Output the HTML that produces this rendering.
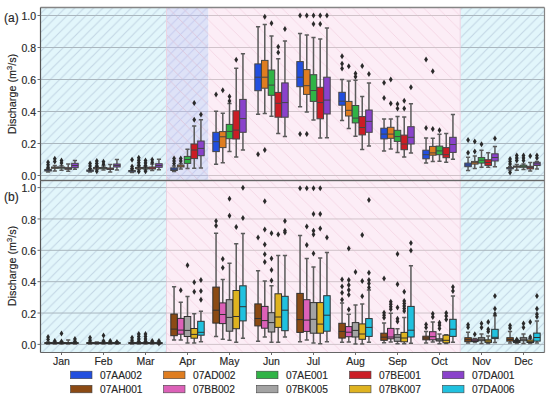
<!DOCTYPE html>
<html><head><meta charset="utf-8"><style>
html,body{margin:0;padding:0;background:#fff;width:550px;height:396px;overflow:hidden}
svg{display:block;font-family:"Liberation Sans",sans-serif}
</style></head><body>
<svg width="550" height="396" viewBox="0 0 550 396" font-family="Liberation Sans, sans-serif"><style>text{stroke:#262626;stroke-width:0.15px}</style>
<defs>
<pattern id="hc" patternUnits="userSpaceOnUse" width="9.45" height="9.45" patternTransform="translate(7 0)">
<path d="M-1 1L1 -1M0 9.45L9.45 0M8.45 10.45L10.45 8.45" stroke="#c3d6e4" stroke-width="1.1"/>
</pattern>
<pattern id="hl" patternUnits="userSpaceOnUse" width="9.45" height="9.45" patternTransform="translate(7 0)">
<path d="M-1 1L1 -1M0 9.45L9.45 0M8.45 10.45L10.45 8.45" stroke="#c6cbee" stroke-width="1"/>
</pattern>
<pattern id="hp2" patternUnits="userSpaceOnUse" width="14.2" height="14.2" patternTransform="translate(4 0)">
<path d="M-1 -1L1 1M0 0L14.2 14.2M13.2 13.2L15.2 15.2" stroke="#dcc6dc" stroke-width="0.9"/>
</pattern>
<pattern id="hp" patternUnits="userSpaceOnUse" width="14.2" height="14.2" patternTransform="translate(4 0)">
<path d="M-1 -1L1 1M0 0L14.2 14.2M13.2 13.2L15.2 15.2" stroke="#f4d6e5" stroke-width="0.9"/>
</pattern>
<clipPath id="ca"><rect x="40.5" y="7.5" width="504.0" height="173.0"/></clipPath>
<clipPath id="cb"><rect x="40.5" y="180.5" width="504.0" height="172.0"/></clipPath>
</defs>
<rect x="40.5" y="7.5" width="126.0" height="173.0" fill="#e2f6fb"/><rect x="40.5" y="7.5" width="126.0" height="173.0" fill="url(#hc)"/>
<rect x="166.5" y="7.5" width="42.0" height="173.0" fill="#dee2f7"/><rect x="166.5" y="7.5" width="42.0" height="173.0" fill="url(#hl)"/><rect x="166.5" y="7.5" width="42.0" height="173.0" fill="url(#hp2)"/>
<rect x="208.5" y="7.5" width="252.0" height="173.0" fill="#fcedf6"/><rect x="208.5" y="7.5" width="252.0" height="173.0" fill="url(#hp)"/>
<rect x="460.5" y="7.5" width="84.0" height="173.0" fill="#e2f6fb"/><rect x="460.5" y="7.5" width="84.0" height="173.0" fill="url(#hc)"/>
<rect x="40.5" y="180.5" width="126.0" height="172.0" fill="#e2f6fb"/><rect x="40.5" y="180.5" width="126.0" height="172.0" fill="url(#hc)"/>
<rect x="166.5" y="180.5" width="294.0" height="172.0" fill="#fcedf6"/><rect x="166.5" y="180.5" width="294.0" height="172.0" fill="url(#hp)"/>
<rect x="460.5" y="180.5" width="84.0" height="172.0" fill="#e2f6fb"/><rect x="460.5" y="180.5" width="84.0" height="172.0" fill="url(#hc)"/>
<path d="M166.5 7.5V352.5" stroke="#ecd4e2" stroke-width="1"/>
<path d="M460.2 7.5V352.5" stroke="#ecd4e2" stroke-width="1"/>
<path d="M40.5 175.50H166.5" stroke="#aab7bf" stroke-width="1"/><path d="M166.5 175.50H208.5" stroke="#b9bcd6" stroke-width="1"/><path d="M208.5 175.50H460.5" stroke="#d1c3ca" stroke-width="1"/><path d="M460.5 175.50H544.5" stroke="#aab7bf" stroke-width="1"/>
<path d="M40.5 344.40H166.5" stroke="#aab7bf" stroke-width="1"/><path d="M166.5 344.40H460.5" stroke="#d1c3ca" stroke-width="1"/><path d="M460.5 344.40H544.5" stroke="#aab7bf" stroke-width="1"/>
<path d="M40.5 143.50H166.5" stroke="#aab7bf" stroke-width="1"/><path d="M166.5 143.50H208.5" stroke="#b9bcd6" stroke-width="1"/><path d="M208.5 143.50H460.5" stroke="#d1c3ca" stroke-width="1"/><path d="M460.5 143.50H544.5" stroke="#aab7bf" stroke-width="1"/>
<path d="M40.5 313.04H166.5" stroke="#aab7bf" stroke-width="1"/><path d="M166.5 313.04H460.5" stroke="#d1c3ca" stroke-width="1"/><path d="M460.5 313.04H544.5" stroke="#aab7bf" stroke-width="1"/>
<path d="M40.5 111.50H166.5" stroke="#aab7bf" stroke-width="1"/><path d="M166.5 111.50H208.5" stroke="#b9bcd6" stroke-width="1"/><path d="M208.5 111.50H460.5" stroke="#d1c3ca" stroke-width="1"/><path d="M460.5 111.50H544.5" stroke="#aab7bf" stroke-width="1"/>
<path d="M40.5 281.68H166.5" stroke="#aab7bf" stroke-width="1"/><path d="M166.5 281.68H460.5" stroke="#d1c3ca" stroke-width="1"/><path d="M460.5 281.68H544.5" stroke="#aab7bf" stroke-width="1"/>
<path d="M40.5 79.50H166.5" stroke="#aab7bf" stroke-width="1"/><path d="M166.5 79.50H208.5" stroke="#b9bcd6" stroke-width="1"/><path d="M208.5 79.50H460.5" stroke="#d1c3ca" stroke-width="1"/><path d="M460.5 79.50H544.5" stroke="#aab7bf" stroke-width="1"/>
<path d="M40.5 250.32H166.5" stroke="#aab7bf" stroke-width="1"/><path d="M166.5 250.32H460.5" stroke="#d1c3ca" stroke-width="1"/><path d="M460.5 250.32H544.5" stroke="#aab7bf" stroke-width="1"/>
<path d="M40.5 47.50H166.5" stroke="#aab7bf" stroke-width="1"/><path d="M166.5 47.50H208.5" stroke="#b9bcd6" stroke-width="1"/><path d="M208.5 47.50H460.5" stroke="#d1c3ca" stroke-width="1"/><path d="M460.5 47.50H544.5" stroke="#aab7bf" stroke-width="1"/>
<path d="M40.5 218.96H166.5" stroke="#aab7bf" stroke-width="1"/><path d="M166.5 218.96H460.5" stroke="#d1c3ca" stroke-width="1"/><path d="M460.5 218.96H544.5" stroke="#aab7bf" stroke-width="1"/>
<path d="M40.5 15.50H166.5" stroke="#aab7bf" stroke-width="1"/><path d="M166.5 15.50H208.5" stroke="#b9bcd6" stroke-width="1"/><path d="M208.5 15.50H460.5" stroke="#d1c3ca" stroke-width="1"/><path d="M460.5 15.50H544.5" stroke="#aab7bf" stroke-width="1"/>
<path d="M40.5 187.60H166.5" stroke="#aab7bf" stroke-width="1"/><path d="M166.5 187.60H460.5" stroke="#d1c3ca" stroke-width="1"/><path d="M460.5 187.60H544.5" stroke="#aab7bf" stroke-width="1"/>
<path d="M48.06 168.50V169.50M48.06 171.00V172.00M45.96 168.50h4.2M45.96 172.00h4.2" stroke="#5a5a5a" stroke-width="1.5" fill="none"/>
<rect x="44.81" y="169.50" width="6.5" height="1.50" fill="#224fdf" stroke="#444444" stroke-width="1"/>
<path d="M44.81 170.30h6.5" stroke="#444444" stroke-width="1"/>
<path d="M48.06 159.20L49.96 162.20L48.06 165.20L46.16 162.20Z" fill="#2a2a2a"/>
<path d="M48.06 161.70L49.96 164.70L48.06 167.70L46.16 164.70Z" fill="#2a2a2a"/>
<path d="M48.06 164.20L49.96 167.20L48.06 170.20L46.16 167.20Z" fill="#2a2a2a"/>
<path d="M48.06 342.00V342.60M48.06 343.50V344.00M45.96 342.00h4.2M45.96 344.00h4.2" stroke="#5a5a5a" stroke-width="1.5" fill="none"/>
<rect x="44.81" y="342.60" width="6.5" height="0.90" fill="#8b4a14" stroke="#303030" stroke-width="1"/>
<path d="M44.81 343.00h6.5" stroke="#303030" stroke-width="1"/>
<path d="M48.06 334.00L49.96 337.00L48.06 340.00L46.16 337.00Z" fill="#2a2a2a"/>
<path d="M48.06 336.50L49.96 339.50L48.06 342.50L46.16 339.50Z" fill="#2a2a2a"/>
<path d="M54.78 165.40V167.00M54.78 168.30V171.00M52.68 165.40h4.2M52.68 171.00h4.2" stroke="#5a5a5a" stroke-width="1.5" fill="none"/>
<rect x="51.53" y="167.00" width="6.5" height="1.30" fill="#df7d20" stroke="#444444" stroke-width="1"/>
<path d="M51.53 167.70h6.5" stroke="#444444" stroke-width="1"/>
<path d="M54.78 155.80L56.68 158.80L54.78 161.80L52.88 158.80Z" fill="#2a2a2a"/>
<path d="M54.78 158.50L56.68 161.50L54.78 164.50L52.88 161.50Z" fill="#2a2a2a"/>
<path d="M54.78 342.00V342.60M54.78 343.50V344.00M52.68 342.00h4.2M52.68 344.00h4.2" stroke="#5a5a5a" stroke-width="1.5" fill="none"/>
<rect x="51.53" y="342.60" width="6.5" height="0.90" fill="#dc61b8" stroke="#303030" stroke-width="1"/>
<path d="M51.53 343.00h6.5" stroke="#303030" stroke-width="1"/>
<path d="M54.78 338.00L56.68 341.00L54.78 344.00L52.88 341.00Z" fill="#2a2a2a"/>
<path d="M61.50 165.70V167.00M61.50 168.20V170.30M59.40 165.70h4.2M59.40 170.30h4.2" stroke="#5a5a5a" stroke-width="1.5" fill="none"/>
<rect x="58.25" y="167.00" width="6.5" height="1.20" fill="#30b346" stroke="#444444" stroke-width="1"/>
<path d="M58.25 167.50h6.5" stroke="#444444" stroke-width="1"/>
<path d="M61.50 157.50L63.40 160.50L61.50 163.50L59.60 160.50Z" fill="#2a2a2a"/>
<path d="M61.50 160.00L63.40 163.00L61.50 166.00L59.60 163.00Z" fill="#2a2a2a"/>
<path d="M61.50 342.00V342.60M61.50 343.50V344.00M59.40 342.00h4.2M59.40 344.00h4.2" stroke="#5a5a5a" stroke-width="1.5" fill="none"/>
<rect x="58.25" y="342.60" width="6.5" height="0.90" fill="#a3a3a3" stroke="#303030" stroke-width="1"/>
<path d="M58.25 343.00h6.5" stroke="#303030" stroke-width="1"/>
<path d="M61.50 330.50L63.40 333.50L61.50 336.50L59.60 333.50Z" fill="#2a2a2a"/>
<path d="M61.50 338.50L63.40 341.50L61.50 344.50L59.60 341.50Z" fill="#2a2a2a"/>
<path d="M68.22 164.10V167.70M68.22 169.30V171.30M66.12 164.10h4.2M66.12 171.30h4.2" stroke="#5a5a5a" stroke-width="1.5" fill="none"/>
<rect x="64.97" y="167.70" width="6.5" height="1.60" fill="#cb1d25" stroke="#444444" stroke-width="1"/>
<path d="M64.97 168.50h6.5" stroke="#444444" stroke-width="1"/>
<path d="M68.22 340.10V342.60M68.22 343.50V344.00M66.12 340.10h4.2M66.12 344.00h4.2" stroke="#5a5a5a" stroke-width="1.5" fill="none"/>
<rect x="64.97" y="342.60" width="6.5" height="0.90" fill="#dfb320" stroke="#303030" stroke-width="1"/>
<path d="M64.97 343.00h6.5" stroke="#303030" stroke-width="1"/>
<path d="M74.94 160.40V163.30M74.94 167.70V169.30M72.84 160.40h4.2M72.84 169.30h4.2" stroke="#5a5a5a" stroke-width="1.5" fill="none"/>
<rect x="71.69" y="163.30" width="6.5" height="4.40" fill="#8a42cb" stroke="#444444" stroke-width="1"/>
<path d="M71.69 165.50h6.5" stroke="#444444" stroke-width="1"/>
<path d="M74.94 342.00V342.60M74.94 343.50V344.00M72.84 342.00h4.2M72.84 344.00h4.2" stroke="#5a5a5a" stroke-width="1.5" fill="none"/>
<rect x="71.69" y="342.60" width="6.5" height="0.90" fill="#20c1df" stroke="#303030" stroke-width="1"/>
<path d="M71.69 343.00h6.5" stroke="#303030" stroke-width="1"/>
<path d="M74.94 336.00L76.84 339.00L74.94 342.00L73.04 339.00Z" fill="#2a2a2a"/>
<path d="M74.94 338.20L76.84 341.20L74.94 344.20L73.04 341.20Z" fill="#2a2a2a"/>
<path d="M90.06 169.00V170.00M90.06 171.30V172.00M87.96 169.00h4.2M87.96 172.00h4.2" stroke="#5a5a5a" stroke-width="1.5" fill="none"/>
<rect x="86.81" y="170.00" width="6.5" height="1.30" fill="#224fdf" stroke="#444444" stroke-width="1"/>
<path d="M86.81 170.70h6.5" stroke="#444444" stroke-width="1"/>
<path d="M90.06 160.50L91.96 163.50L90.06 166.50L88.16 163.50Z" fill="#2a2a2a"/>
<path d="M90.06 163.00L91.96 166.00L90.06 169.00L88.16 166.00Z" fill="#2a2a2a"/>
<path d="M90.06 165.50L91.96 168.50L90.06 171.50L88.16 168.50Z" fill="#2a2a2a"/>
<path d="M90.06 342.00V342.60M90.06 343.50V344.00M87.96 342.00h4.2M87.96 344.00h4.2" stroke="#5a5a5a" stroke-width="1.5" fill="none"/>
<rect x="86.81" y="342.60" width="6.5" height="0.90" fill="#8b4a14" stroke="#303030" stroke-width="1"/>
<path d="M86.81 343.00h6.5" stroke="#303030" stroke-width="1"/>
<path d="M90.06 334.80L91.96 337.80L90.06 340.80L88.16 337.80Z" fill="#2a2a2a"/>
<path d="M90.06 337.20L91.96 340.20L90.06 343.20L88.16 340.20Z" fill="#2a2a2a"/>
<path d="M96.78 166.50V167.50M96.78 168.70V169.50M94.68 166.50h4.2M94.68 169.50h4.2" stroke="#5a5a5a" stroke-width="1.5" fill="none"/>
<rect x="93.53" y="167.50" width="6.5" height="1.20" fill="#df7d20" stroke="#444444" stroke-width="1"/>
<path d="M93.53 168.00h6.5" stroke="#444444" stroke-width="1"/>
<path d="M96.78 158.00L98.68 161.00L96.78 164.00L94.88 161.00Z" fill="#2a2a2a"/>
<path d="M96.78 160.50L98.68 163.50L96.78 166.50L94.88 163.50Z" fill="#2a2a2a"/>
<path d="M96.78 163.00L98.68 166.00L96.78 169.00L94.88 166.00Z" fill="#2a2a2a"/>
<path d="M96.78 168.30L98.68 171.30L96.78 174.30L94.88 171.30Z" fill="#2a2a2a"/>
<path d="M96.78 342.00V342.60M96.78 343.50V344.00M94.68 342.00h4.2M94.68 344.00h4.2" stroke="#5a5a5a" stroke-width="1.5" fill="none"/>
<rect x="93.53" y="342.60" width="6.5" height="0.90" fill="#dc61b8" stroke="#303030" stroke-width="1"/>
<path d="M93.53 343.00h6.5" stroke="#303030" stroke-width="1"/>
<path d="M103.50 166.00V167.50M103.50 168.70V170.00M101.40 166.00h4.2M101.40 170.00h4.2" stroke="#5a5a5a" stroke-width="1.5" fill="none"/>
<rect x="100.25" y="167.50" width="6.5" height="1.20" fill="#30b346" stroke="#444444" stroke-width="1"/>
<path d="M100.25 168.00h6.5" stroke="#444444" stroke-width="1"/>
<path d="M103.50 158.70L105.40 161.70L103.50 164.70L101.60 161.70Z" fill="#2a2a2a"/>
<path d="M103.50 161.20L105.40 164.20L103.50 167.20L101.60 164.20Z" fill="#2a2a2a"/>
<path d="M103.50 342.00V342.60M103.50 343.50V344.00M101.40 342.00h4.2M101.40 344.00h4.2" stroke="#5a5a5a" stroke-width="1.5" fill="none"/>
<rect x="100.25" y="342.60" width="6.5" height="0.90" fill="#a3a3a3" stroke="#303030" stroke-width="1"/>
<path d="M100.25 343.00h6.5" stroke="#303030" stroke-width="1"/>
<path d="M103.50 332.50L105.40 335.50L103.50 338.50L101.60 335.50Z" fill="#2a2a2a"/>
<path d="M103.50 338.00L105.40 341.00L103.50 344.00L101.60 341.00Z" fill="#2a2a2a"/>
<path d="M110.22 164.50V168.00M110.22 169.50V172.00M108.12 164.50h4.2M108.12 172.00h4.2" stroke="#5a5a5a" stroke-width="1.5" fill="none"/>
<rect x="106.97" y="168.00" width="6.5" height="1.50" fill="#cb1d25" stroke="#444444" stroke-width="1"/>
<path d="M106.97 168.80h6.5" stroke="#444444" stroke-width="1"/>
<path d="M110.22 342.00V342.60M110.22 343.50V344.00M108.12 342.00h4.2M108.12 344.00h4.2" stroke="#5a5a5a" stroke-width="1.5" fill="none"/>
<rect x="106.97" y="342.60" width="6.5" height="0.90" fill="#dfb320" stroke="#303030" stroke-width="1"/>
<path d="M106.97 343.00h6.5" stroke="#303030" stroke-width="1"/>
<path d="M110.22 338.00L112.12 341.00L110.22 344.00L108.32 341.00Z" fill="#2a2a2a"/>
<path d="M116.94 159.60V164.00M116.94 167.00V170.00M114.84 159.60h4.2M114.84 170.00h4.2" stroke="#5a5a5a" stroke-width="1.5" fill="none"/>
<rect x="113.69" y="164.00" width="6.5" height="3.00" fill="#8a42cb" stroke="#444444" stroke-width="1"/>
<path d="M113.69 165.50h6.5" stroke="#444444" stroke-width="1"/>
<path d="M116.94 342.00V342.60M116.94 343.50V344.00M114.84 342.00h4.2M114.84 344.00h4.2" stroke="#5a5a5a" stroke-width="1.5" fill="none"/>
<rect x="113.69" y="342.60" width="6.5" height="0.90" fill="#20c1df" stroke="#303030" stroke-width="1"/>
<path d="M113.69 343.00h6.5" stroke="#303030" stroke-width="1"/>
<path d="M116.94 339.00L118.84 342.00L116.94 345.00L115.04 342.00Z" fill="#2a2a2a"/>
<path d="M132.06 169.00V170.50M132.06 171.80V172.50M129.96 169.00h4.2M129.96 172.50h4.2" stroke="#5a5a5a" stroke-width="1.5" fill="none"/>
<rect x="128.81" y="170.50" width="6.5" height="1.30" fill="#224fdf" stroke="#444444" stroke-width="1"/>
<path d="M128.81 171.00h6.5" stroke="#444444" stroke-width="1"/>
<path d="M132.06 156.70L133.96 159.70L132.06 162.70L130.16 159.70Z" fill="#2a2a2a"/>
<path d="M132.06 163.50L133.96 166.50L132.06 169.50L130.16 166.50Z" fill="#2a2a2a"/>
<path d="M132.06 165.50L133.96 168.50L132.06 171.50L130.16 168.50Z" fill="#2a2a2a"/>
<path d="M132.06 342.00V342.60M132.06 343.50V344.00M129.96 342.00h4.2M129.96 344.00h4.2" stroke="#5a5a5a" stroke-width="1.5" fill="none"/>
<rect x="128.81" y="342.60" width="6.5" height="0.90" fill="#8b4a14" stroke="#303030" stroke-width="1"/>
<path d="M128.81 343.00h6.5" stroke="#303030" stroke-width="1"/>
<path d="M132.06 334.80L133.96 337.80L132.06 340.80L130.16 337.80Z" fill="#2a2a2a"/>
<path d="M132.06 337.20L133.96 340.20L132.06 343.20L130.16 340.20Z" fill="#2a2a2a"/>
<path d="M138.78 166.00V167.50M138.78 168.70V169.50M136.68 166.00h4.2M136.68 169.50h4.2" stroke="#5a5a5a" stroke-width="1.5" fill="none"/>
<rect x="135.53" y="167.50" width="6.5" height="1.20" fill="#df7d20" stroke="#444444" stroke-width="1"/>
<path d="M135.53 168.00h6.5" stroke="#444444" stroke-width="1"/>
<path d="M138.78 154.70L140.68 157.70L138.78 160.70L136.88 157.70Z" fill="#2a2a2a"/>
<path d="M138.78 157.20L140.68 160.20L138.78 163.20L136.88 160.20Z" fill="#2a2a2a"/>
<path d="M138.78 159.70L140.68 162.70L138.78 165.70L136.88 162.70Z" fill="#2a2a2a"/>
<path d="M138.78 162.20L140.68 165.20L138.78 168.20L136.88 165.20Z" fill="#2a2a2a"/>
<path d="M138.78 168.60L140.68 171.60L138.78 174.60L136.88 171.60Z" fill="#2a2a2a"/>
<path d="M138.78 342.00V342.60M138.78 343.50V344.00M136.68 342.00h4.2M136.68 344.00h4.2" stroke="#5a5a5a" stroke-width="1.5" fill="none"/>
<rect x="135.53" y="342.60" width="6.5" height="0.90" fill="#dc61b8" stroke="#303030" stroke-width="1"/>
<path d="M135.53 343.00h6.5" stroke="#303030" stroke-width="1"/>
<path d="M138.78 331.00L140.68 334.00L138.78 337.00L136.88 334.00Z" fill="#2a2a2a"/>
<path d="M138.78 333.50L140.68 336.50L138.78 339.50L136.88 336.50Z" fill="#2a2a2a"/>
<path d="M138.78 336.00L140.68 339.00L138.78 342.00L136.88 339.00Z" fill="#2a2a2a"/>
<path d="M138.78 338.30L140.68 341.30L138.78 344.30L136.88 341.30Z" fill="#2a2a2a"/>
<path d="M145.50 166.50V167.50M145.50 168.70V169.50M143.40 166.50h4.2M143.40 169.50h4.2" stroke="#5a5a5a" stroke-width="1.5" fill="none"/>
<rect x="142.25" y="167.50" width="6.5" height="1.20" fill="#30b346" stroke="#444444" stroke-width="1"/>
<path d="M142.25 168.00h6.5" stroke="#444444" stroke-width="1"/>
<path d="M145.50 157.40L147.40 160.40L145.50 163.40L143.60 160.40Z" fill="#2a2a2a"/>
<path d="M145.50 159.90L147.40 162.90L145.50 165.90L143.60 162.90Z" fill="#2a2a2a"/>
<path d="M145.50 162.40L147.40 165.40L145.50 168.40L143.60 165.40Z" fill="#2a2a2a"/>
<path d="M145.50 168.20L147.40 171.20L145.50 174.20L143.60 171.20Z" fill="#2a2a2a"/>
<path d="M145.50 342.00V342.60M145.50 343.50V344.00M143.40 342.00h4.2M143.40 344.00h4.2" stroke="#5a5a5a" stroke-width="1.5" fill="none"/>
<rect x="142.25" y="342.60" width="6.5" height="0.90" fill="#a3a3a3" stroke="#303030" stroke-width="1"/>
<path d="M142.25 343.00h6.5" stroke="#303030" stroke-width="1"/>
<path d="M145.50 331.00L147.40 334.00L145.50 337.00L143.60 334.00Z" fill="#2a2a2a"/>
<path d="M145.50 333.50L147.40 336.50L145.50 339.50L143.60 336.50Z" fill="#2a2a2a"/>
<path d="M145.50 336.00L147.40 339.00L145.50 342.00L143.60 339.00Z" fill="#2a2a2a"/>
<path d="M145.50 338.30L147.40 341.30L145.50 344.30L143.60 341.30Z" fill="#2a2a2a"/>
<path d="M152.22 164.00V167.00M152.22 169.00V170.50M150.12 164.00h4.2M150.12 170.50h4.2" stroke="#5a5a5a" stroke-width="1.5" fill="none"/>
<rect x="148.97" y="167.00" width="6.5" height="2.00" fill="#cb1d25" stroke="#444444" stroke-width="1"/>
<path d="M148.97 168.00h6.5" stroke="#444444" stroke-width="1"/>
<path d="M152.22 156.70L154.12 159.70L152.22 162.70L150.32 159.70Z" fill="#2a2a2a"/>
<path d="M152.22 159.20L154.12 162.20L152.22 165.20L150.32 162.20Z" fill="#2a2a2a"/>
<path d="M152.22 342.00V342.60M152.22 343.50V344.00M150.12 342.00h4.2M150.12 344.00h4.2" stroke="#5a5a5a" stroke-width="1.5" fill="none"/>
<rect x="148.97" y="342.60" width="6.5" height="0.90" fill="#dfb320" stroke="#303030" stroke-width="1"/>
<path d="M148.97 343.00h6.5" stroke="#303030" stroke-width="1"/>
<path d="M152.22 338.00L154.12 341.00L152.22 344.00L150.32 341.00Z" fill="#2a2a2a"/>
<path d="M158.94 159.20V163.70M158.94 167.30V169.80M156.84 159.20h4.2M156.84 169.80h4.2" stroke="#5a5a5a" stroke-width="1.5" fill="none"/>
<rect x="155.69" y="163.70" width="6.5" height="3.60" fill="#8a42cb" stroke="#444444" stroke-width="1"/>
<path d="M155.69 165.50h6.5" stroke="#444444" stroke-width="1"/>
<path d="M158.94 342.00V342.60M158.94 343.50V344.00M156.84 342.00h4.2M156.84 344.00h4.2" stroke="#5a5a5a" stroke-width="1.5" fill="none"/>
<rect x="155.69" y="342.60" width="6.5" height="0.90" fill="#20c1df" stroke="#303030" stroke-width="1"/>
<path d="M155.69 343.00h6.5" stroke="#303030" stroke-width="1"/>
<path d="M158.94 338.00L160.84 341.00L158.94 344.00L157.04 341.00Z" fill="#2a2a2a"/>
<path d="M158.94 340.50L160.84 343.50L158.94 346.50L157.04 343.50Z" fill="#2a2a2a"/>
<path d="M174.06 166.00V167.90M174.06 170.50V171.50M171.96 166.00h4.2M171.96 171.50h4.2" stroke="#5a5a5a" stroke-width="1.5" fill="none"/>
<rect x="170.81" y="167.90" width="6.5" height="2.60" fill="#224fdf" stroke="#444444" stroke-width="1"/>
<path d="M170.81 169.20h6.5" stroke="#444444" stroke-width="1"/>
<path d="M174.06 155.60L175.96 158.60L174.06 161.60L172.16 158.60Z" fill="#2a2a2a"/>
<path d="M174.06 158.10L175.96 161.10L174.06 164.10L172.16 161.10Z" fill="#2a2a2a"/>
<path d="M174.06 160.60L175.96 163.60L174.06 166.60L172.16 163.60Z" fill="#2a2a2a"/>
<path d="M174.06 286.70V314.00M174.06 335.70V339.90M171.96 286.70h4.2M171.96 339.90h4.2" stroke="#5a5a5a" stroke-width="1.5" fill="none"/>
<rect x="170.81" y="314.00" width="6.5" height="21.70" fill="#8b4a14" stroke="#303030" stroke-width="1"/>
<path d="M170.81 329.10h6.5" stroke="#303030" stroke-width="1"/>
<path d="M180.78 163.50V165.00M180.78 167.00V169.00M178.68 163.50h4.2M178.68 169.00h4.2" stroke="#5a5a5a" stroke-width="1.5" fill="none"/>
<rect x="177.53" y="165.00" width="6.5" height="2.00" fill="#df7d20" stroke="#444444" stroke-width="1"/>
<path d="M177.53 166.00h6.5" stroke="#444444" stroke-width="1"/>
<path d="M180.78 155.60L182.68 158.60L180.78 161.60L178.88 158.60Z" fill="#2a2a2a"/>
<path d="M180.78 158.10L182.68 161.10L180.78 164.10L178.88 161.10Z" fill="#2a2a2a"/>
<path d="M180.78 302.30V318.40M180.78 334.20V339.90M178.68 302.30h4.2M178.68 339.90h4.2" stroke="#5a5a5a" stroke-width="1.5" fill="none"/>
<rect x="177.53" y="318.40" width="6.5" height="15.80" fill="#dc61b8" stroke="#303030" stroke-width="1"/>
<path d="M177.53 330.10h6.5" stroke="#303030" stroke-width="1"/>
<path d="M180.78 287.20L182.68 290.20L180.78 293.20L178.88 290.20Z" fill="#2a2a2a"/>
<path d="M187.50 149.30V156.40M187.50 163.40V168.50M185.40 149.30h4.2M185.40 168.50h4.2" stroke="#5a5a5a" stroke-width="1.5" fill="none"/>
<rect x="184.25" y="156.40" width="6.5" height="7.00" fill="#30b346" stroke="#444444" stroke-width="1"/>
<path d="M184.25 159.50h6.5" stroke="#444444" stroke-width="1"/>
<path d="M187.50 296.50V316.50M187.50 336.50V343.00M185.40 296.50h4.2M185.40 343.00h4.2" stroke="#5a5a5a" stroke-width="1.5" fill="none"/>
<rect x="184.25" y="316.50" width="6.5" height="20.00" fill="#a3a3a3" stroke="#303030" stroke-width="1"/>
<path d="M184.25 330.40h6.5" stroke="#303030" stroke-width="1"/>
<path d="M187.50 262.20L189.40 265.20L187.50 268.20L185.60 265.20Z" fill="#2a2a2a"/>
<path d="M194.22 125.90V144.00M194.22 158.60V168.30M192.12 125.90h4.2M192.12 168.30h4.2" stroke="#5a5a5a" stroke-width="1.5" fill="none"/>
<rect x="190.97" y="144.00" width="6.5" height="14.60" fill="#cb1d25" stroke="#444444" stroke-width="1"/>
<path d="M190.97 150.00h6.5" stroke="#444444" stroke-width="1"/>
<path d="M194.22 100.00L196.12 103.00L194.22 106.00L192.32 103.00Z" fill="#2a2a2a"/>
<path d="M194.22 116.80L196.12 119.80L194.22 122.80L192.32 119.80Z" fill="#2a2a2a"/>
<path d="M194.22 313.70V328.50M194.22 338.20V343.00M192.12 313.70h4.2M192.12 343.00h4.2" stroke="#5a5a5a" stroke-width="1.5" fill="none"/>
<rect x="190.97" y="328.50" width="6.5" height="9.70" fill="#dfb320" stroke="#303030" stroke-width="1"/>
<path d="M190.97 334.40h6.5" stroke="#303030" stroke-width="1"/>
<path d="M194.22 279.20L196.12 282.20L194.22 285.20L192.32 282.20Z" fill="#2a2a2a"/>
<path d="M194.22 288.70L196.12 291.70L194.22 294.70L192.32 291.70Z" fill="#2a2a2a"/>
<path d="M200.94 119.80V141.00M200.94 155.70V168.00M198.84 119.80h4.2M198.84 168.00h4.2" stroke="#5a5a5a" stroke-width="1.5" fill="none"/>
<rect x="197.69" y="141.00" width="6.5" height="14.70" fill="#8a42cb" stroke="#444444" stroke-width="1"/>
<path d="M197.69 148.40h6.5" stroke="#444444" stroke-width="1"/>
<path d="M200.94 111.50L202.84 114.50L200.94 117.50L199.04 114.50Z" fill="#2a2a2a"/>
<path d="M200.94 311.20V321.30M200.94 335.20V341.80M198.84 311.20h4.2M198.84 341.80h4.2" stroke="#5a5a5a" stroke-width="1.5" fill="none"/>
<rect x="197.69" y="321.30" width="6.5" height="13.90" fill="#20c1df" stroke="#303030" stroke-width="1"/>
<path d="M197.69 332.30h6.5" stroke="#303030" stroke-width="1"/>
<path d="M200.94 277.00L202.84 280.00L200.94 283.00L199.04 280.00Z" fill="#2a2a2a"/>
<path d="M200.94 288.10L202.84 291.10L200.94 294.10L199.04 291.10Z" fill="#2a2a2a"/>
<path d="M200.94 296.80L202.84 299.80L200.94 302.80L199.04 299.80Z" fill="#2a2a2a"/>
<path d="M216.06 111.30V132.30M216.06 151.60V164.20M213.96 111.30h4.2M213.96 164.20h4.2" stroke="#5a5a5a" stroke-width="1.5" fill="none"/>
<rect x="212.81" y="132.30" width="6.5" height="19.30" fill="#224fdf" stroke="#444444" stroke-width="1"/>
<path d="M212.81 141.70h6.5" stroke="#444444" stroke-width="1"/>
<path d="M216.06 91.60L217.96 94.60L216.06 97.60L214.16 94.60Z" fill="#2a2a2a"/>
<path d="M216.06 233.20V287.10M216.06 323.10V336.40M213.96 233.20h4.2M213.96 336.40h4.2" stroke="#5a5a5a" stroke-width="1.5" fill="none"/>
<rect x="212.81" y="287.10" width="6.5" height="36.00" fill="#8b4a14" stroke="#303030" stroke-width="1"/>
<path d="M212.81 310.20h6.5" stroke="#303030" stroke-width="1"/>
<path d="M216.06 218.10L217.96 221.10L216.06 224.10L214.16 221.10Z" fill="#2a2a2a"/>
<path d="M216.06 222.80L217.96 225.80L216.06 228.80L214.16 225.80Z" fill="#2a2a2a"/>
<path d="M222.78 113.20V131.60M222.78 147.60V162.70M220.68 113.20h4.2M220.68 162.70h4.2" stroke="#5a5a5a" stroke-width="1.5" fill="none"/>
<rect x="219.53" y="131.60" width="6.5" height="16.00" fill="#df7d20" stroke="#444444" stroke-width="1"/>
<path d="M219.53 136.80h6.5" stroke="#444444" stroke-width="1"/>
<path d="M222.78 87.20L224.68 90.20L222.78 93.20L220.88 90.20Z" fill="#2a2a2a"/>
<path d="M222.78 279.50V302.90M222.78 323.60V339.30M220.68 279.50h4.2M220.68 339.30h4.2" stroke="#5a5a5a" stroke-width="1.5" fill="none"/>
<rect x="219.53" y="302.90" width="6.5" height="20.70" fill="#dc61b8" stroke="#303030" stroke-width="1"/>
<path d="M219.53 314.50h6.5" stroke="#303030" stroke-width="1"/>
<path d="M222.78 255.90L224.68 258.90L222.78 261.90L220.88 258.90Z" fill="#2a2a2a"/>
<path d="M222.78 264.70L224.68 267.70L222.78 270.70L220.88 267.70Z" fill="#2a2a2a"/>
<path d="M229.50 103.40V124.40M229.50 138.70V151.40M227.40 103.40h4.2M227.40 151.40h4.2" stroke="#5a5a5a" stroke-width="1.5" fill="none"/>
<rect x="226.25" y="124.40" width="6.5" height="14.30" fill="#30b346" stroke="#444444" stroke-width="1"/>
<path d="M226.25 131.40h6.5" stroke="#444444" stroke-width="1"/>
<path d="M229.50 93.50L231.40 96.50L229.50 99.50L227.60 96.50Z" fill="#2a2a2a"/>
<path d="M229.50 98.00L231.40 101.00L229.50 104.00L227.60 101.00Z" fill="#2a2a2a"/>
<path d="M229.50 263.20V299.70M229.50 331.20V340.30M227.40 263.20h4.2M227.40 340.30h4.2" stroke="#5a5a5a" stroke-width="1.5" fill="none"/>
<rect x="226.25" y="299.70" width="6.5" height="31.50" fill="#a3a3a3" stroke="#303030" stroke-width="1"/>
<path d="M226.25 317.40h6.5" stroke="#303030" stroke-width="1"/>
<path d="M229.50 195.70L231.40 198.70L229.50 201.70L227.60 198.70Z" fill="#2a2a2a"/>
<path d="M229.50 212.70L231.40 215.70L229.50 218.70L227.60 215.70Z" fill="#2a2a2a"/>
<path d="M236.22 68.20V110.80M236.22 139.00V156.90M234.12 68.20h4.2M234.12 156.90h4.2" stroke="#5a5a5a" stroke-width="1.5" fill="none"/>
<rect x="232.97" y="110.80" width="6.5" height="28.20" fill="#cb1d25" stroke="#444444" stroke-width="1"/>
<path d="M232.97 130.10h6.5" stroke="#444444" stroke-width="1"/>
<path d="M236.22 56.70L238.12 59.70L236.22 62.70L234.32 59.70Z" fill="#2a2a2a"/>
<path d="M236.22 243.70V290.50M236.22 328.70V342.30M234.12 243.70h4.2M234.12 342.30h4.2" stroke="#5a5a5a" stroke-width="1.5" fill="none"/>
<rect x="232.97" y="290.50" width="6.5" height="38.20" fill="#dfb320" stroke="#303030" stroke-width="1"/>
<path d="M232.97 316.50h6.5" stroke="#303030" stroke-width="1"/>
<path d="M236.22 224.00L238.12 227.00L236.22 230.00L234.32 227.00Z" fill="#2a2a2a"/>
<path d="M242.94 53.80V99.40M242.94 132.30V150.10M240.84 53.80h4.2M240.84 150.10h4.2" stroke="#5a5a5a" stroke-width="1.5" fill="none"/>
<rect x="239.69" y="99.40" width="6.5" height="32.90" fill="#8a42cb" stroke="#444444" stroke-width="1"/>
<path d="M239.69 118.60h6.5" stroke="#444444" stroke-width="1"/>
<path d="M242.94 233.60V285.80M242.94 320.90V338.30M240.84 233.60h4.2M240.84 338.30h4.2" stroke="#5a5a5a" stroke-width="1.5" fill="none"/>
<rect x="239.69" y="285.80" width="6.5" height="35.10" fill="#20c1df" stroke="#303030" stroke-width="1"/>
<path d="M239.69 306.70h6.5" stroke="#303030" stroke-width="1"/>
<path d="M242.94 184.80L244.84 187.80L242.94 190.80L241.04 187.80Z" fill="#2a2a2a"/>
<path d="M242.94 214.90L244.84 217.90L242.94 220.90L241.04 217.90Z" fill="#2a2a2a"/>
<path d="M258.06 26.70V63.90M258.06 90.70V114.30M255.96 26.70h4.2M255.96 114.30h4.2" stroke="#5a5a5a" stroke-width="1.5" fill="none"/>
<rect x="254.81" y="63.90" width="6.5" height="26.80" fill="#224fdf" stroke="#444444" stroke-width="1"/>
<path d="M254.81 77.20h6.5" stroke="#444444" stroke-width="1"/>
<path d="M258.06 151.20L259.96 154.20L258.06 157.20L256.16 154.20Z" fill="#2a2a2a"/>
<path d="M258.06 270.80V303.90M258.06 325.90V341.30M255.96 270.80h4.2M255.96 341.30h4.2" stroke="#5a5a5a" stroke-width="1.5" fill="none"/>
<rect x="254.81" y="303.90" width="6.5" height="22.00" fill="#8b4a14" stroke="#303030" stroke-width="1"/>
<path d="M254.81 318.50h6.5" stroke="#303030" stroke-width="1"/>
<path d="M258.06 234.40L259.96 237.40L258.06 240.40L256.16 237.40Z" fill="#2a2a2a"/>
<path d="M264.78 24.60V60.40M264.78 88.20V113.40M262.68 24.60h4.2M262.68 113.40h4.2" stroke="#5a5a5a" stroke-width="1.5" fill="none"/>
<rect x="261.53" y="60.40" width="6.5" height="27.80" fill="#df7d20" stroke="#444444" stroke-width="1"/>
<path d="M261.53 77.20h6.5" stroke="#444444" stroke-width="1"/>
<path d="M264.78 13.80L266.68 16.80L264.78 19.80L262.88 16.80Z" fill="#2a2a2a"/>
<path d="M264.78 147.10L266.68 150.10L264.78 153.10L262.88 150.10Z" fill="#2a2a2a"/>
<path d="M264.78 281.10V306.40M264.78 328.20V337.00M262.68 281.10h4.2M262.68 337.00h4.2" stroke="#5a5a5a" stroke-width="1.5" fill="none"/>
<rect x="261.53" y="306.40" width="6.5" height="21.80" fill="#dc61b8" stroke="#303030" stroke-width="1"/>
<path d="M261.53 320.60h6.5" stroke="#303030" stroke-width="1"/>
<path d="M264.78 198.20L266.68 201.20L264.78 204.20L262.88 201.20Z" fill="#2a2a2a"/>
<path d="M264.78 226.40L266.68 229.40L264.78 232.40L262.88 229.40Z" fill="#2a2a2a"/>
<path d="M264.78 241.60L266.68 244.60L264.78 247.60L262.88 244.60Z" fill="#2a2a2a"/>
<path d="M264.78 251.30L266.68 254.30L264.78 257.30L262.88 254.30Z" fill="#2a2a2a"/>
<path d="M264.78 258.90L266.68 261.90L264.78 264.90L262.88 261.90Z" fill="#2a2a2a"/>
<path d="M271.50 36.00V70.00M271.50 95.30V116.30M269.40 36.00h4.2M269.40 116.30h4.2" stroke="#5a5a5a" stroke-width="1.5" fill="none"/>
<rect x="268.25" y="70.00" width="6.5" height="25.30" fill="#30b346" stroke="#444444" stroke-width="1"/>
<path d="M268.25 85.10h6.5" stroke="#444444" stroke-width="1"/>
<path d="M271.50 20.30L273.40 23.30L271.50 26.30L269.60 23.30Z" fill="#2a2a2a"/>
<path d="M271.50 285.80V312.70M271.50 332.00V342.30M269.40 285.80h4.2M269.40 342.30h4.2" stroke="#5a5a5a" stroke-width="1.5" fill="none"/>
<rect x="268.25" y="312.70" width="6.5" height="19.30" fill="#a3a3a3" stroke="#303030" stroke-width="1"/>
<path d="M268.25 322.60h6.5" stroke="#303030" stroke-width="1"/>
<path d="M271.50 230.20L273.40 233.20L271.50 236.20L269.60 233.20Z" fill="#2a2a2a"/>
<path d="M271.50 255.50L273.40 258.50L271.50 261.50L269.60 258.50Z" fill="#2a2a2a"/>
<path d="M271.50 267.00L273.40 270.00L271.50 273.00L269.60 270.00Z" fill="#2a2a2a"/>
<path d="M271.50 277.40L273.40 280.40L271.50 283.40L269.60 280.40Z" fill="#2a2a2a"/>
<path d="M278.22 58.80V92.40M278.22 117.20V133.60M276.12 58.80h4.2M276.12 133.60h4.2" stroke="#5a5a5a" stroke-width="1.5" fill="none"/>
<rect x="274.97" y="92.40" width="6.5" height="24.80" fill="#cb1d25" stroke="#444444" stroke-width="1"/>
<path d="M274.97 103.30h6.5" stroke="#444444" stroke-width="1"/>
<path d="M278.22 43.70L280.12 46.70L278.22 49.70L276.32 46.70Z" fill="#2a2a2a"/>
<path d="M278.22 49.40L280.12 52.40L278.22 55.40L276.32 52.40Z" fill="#2a2a2a"/>
<path d="M278.22 255.60V293.80M278.22 327.40V342.30M276.12 255.60h4.2M276.12 342.30h4.2" stroke="#5a5a5a" stroke-width="1.5" fill="none"/>
<rect x="274.97" y="293.80" width="6.5" height="33.60" fill="#dfb320" stroke="#303030" stroke-width="1"/>
<path d="M274.97 317.00h6.5" stroke="#303030" stroke-width="1"/>
<path d="M278.22 231.50L280.12 234.50L278.22 237.50L276.32 234.50Z" fill="#2a2a2a"/>
<path d="M284.94 41.00V82.90M284.94 117.20V136.50M282.84 41.00h4.2M282.84 136.50h4.2" stroke="#5a5a5a" stroke-width="1.5" fill="none"/>
<rect x="281.69" y="82.90" width="6.5" height="34.30" fill="#8a42cb" stroke="#444444" stroke-width="1"/>
<path d="M281.69 102.60h6.5" stroke="#444444" stroke-width="1"/>
<path d="M284.94 26.00L286.84 29.00L284.94 32.00L283.04 29.00Z" fill="#2a2a2a"/>
<path d="M284.94 255.60V296.30M284.94 330.70V337.00M282.84 255.60h4.2M282.84 337.00h4.2" stroke="#5a5a5a" stroke-width="1.5" fill="none"/>
<rect x="281.69" y="296.30" width="6.5" height="34.40" fill="#20c1df" stroke="#303030" stroke-width="1"/>
<path d="M281.69 310.20h6.5" stroke="#303030" stroke-width="1"/>
<path d="M284.94 218.10L286.84 221.10L284.94 224.10L283.04 221.10Z" fill="#2a2a2a"/>
<path d="M284.94 227.70L286.84 230.70L284.94 233.70L283.04 230.70Z" fill="#2a2a2a"/>
<path d="M284.94 229.60L286.84 232.60L284.94 235.60L283.04 232.60Z" fill="#2a2a2a"/>
<path d="M300.06 33.40V61.60M300.06 86.70V106.70M297.96 33.40h4.2M297.96 106.70h4.2" stroke="#5a5a5a" stroke-width="1.5" fill="none"/>
<rect x="296.81" y="61.60" width="6.5" height="25.10" fill="#224fdf" stroke="#444444" stroke-width="1"/>
<path d="M296.81 77.20h6.5" stroke="#444444" stroke-width="1"/>
<path d="M300.06 12.40L301.96 15.40L300.06 18.40L298.16 15.40Z" fill="#2a2a2a"/>
<path d="M300.06 131.00L301.96 134.00L300.06 137.00L298.16 134.00Z" fill="#2a2a2a"/>
<path d="M300.06 235.40V293.40M300.06 332.40V341.80M297.96 235.40h4.2M297.96 341.80h4.2" stroke="#5a5a5a" stroke-width="1.5" fill="none"/>
<rect x="296.81" y="293.40" width="6.5" height="39.00" fill="#8b4a14" stroke="#303030" stroke-width="1"/>
<path d="M296.81 319.60h6.5" stroke="#303030" stroke-width="1"/>
<path d="M300.06 185.20L301.96 188.20L300.06 191.20L298.16 188.20Z" fill="#2a2a2a"/>
<path d="M306.78 35.00V69.60M306.78 94.40V112.10M304.68 35.00h4.2M304.68 112.10h4.2" stroke="#5a5a5a" stroke-width="1.5" fill="none"/>
<rect x="303.53" y="69.60" width="6.5" height="24.80" fill="#df7d20" stroke="#444444" stroke-width="1"/>
<path d="M303.53 85.70h6.5" stroke="#444444" stroke-width="1"/>
<path d="M306.78 12.40L308.68 15.40L306.78 18.40L304.88 15.40Z" fill="#2a2a2a"/>
<path d="M306.78 131.00L308.68 134.00L306.78 137.00L304.88 134.00Z" fill="#2a2a2a"/>
<path d="M306.78 258.50V299.70M306.78 331.40V340.10M304.68 258.50h4.2M304.68 340.10h4.2" stroke="#5a5a5a" stroke-width="1.5" fill="none"/>
<rect x="303.53" y="299.70" width="6.5" height="31.70" fill="#dc61b8" stroke="#303030" stroke-width="1"/>
<path d="M303.53 320.10h6.5" stroke="#303030" stroke-width="1"/>
<path d="M306.78 185.20L308.68 188.20L306.78 191.20L304.88 188.20Z" fill="#2a2a2a"/>
<path d="M306.78 223.50L308.68 226.50L306.78 229.50L304.88 226.50Z" fill="#2a2a2a"/>
<path d="M306.78 242.00L308.68 245.00L306.78 248.00L304.88 245.00Z" fill="#2a2a2a"/>
<path d="M313.50 37.50V74.70M313.50 101.40V120.10M311.40 37.50h4.2M311.40 120.10h4.2" stroke="#5a5a5a" stroke-width="1.5" fill="none"/>
<rect x="310.25" y="74.70" width="6.5" height="26.70" fill="#30b346" stroke="#444444" stroke-width="1"/>
<path d="M310.25 90.50h6.5" stroke="#444444" stroke-width="1"/>
<path d="M313.50 12.40L315.40 15.40L313.50 18.40L311.60 15.40Z" fill="#2a2a2a"/>
<path d="M313.50 21.00L315.40 24.00L313.50 27.00L311.60 24.00Z" fill="#2a2a2a"/>
<path d="M313.50 267.00V302.60M313.50 333.20V343.10M311.40 267.00h4.2M311.40 343.10h4.2" stroke="#5a5a5a" stroke-width="1.5" fill="none"/>
<rect x="310.25" y="302.60" width="6.5" height="30.60" fill="#a3a3a3" stroke="#303030" stroke-width="1"/>
<path d="M310.25 319.30h6.5" stroke="#303030" stroke-width="1"/>
<path d="M313.50 185.20L315.40 188.20L313.50 191.20L311.60 188.20Z" fill="#2a2a2a"/>
<path d="M313.50 210.90L315.40 213.90L313.50 216.90L311.60 213.90Z" fill="#2a2a2a"/>
<path d="M313.50 227.70L315.40 230.70L313.50 233.70L311.60 230.70Z" fill="#2a2a2a"/>
<path d="M313.50 231.50L315.40 234.50L313.50 237.50L311.60 234.50Z" fill="#2a2a2a"/>
<path d="M313.50 250.40L315.40 253.40L313.50 256.40L311.60 253.40Z" fill="#2a2a2a"/>
<path d="M320.22 39.10V87.30M320.22 118.80V138.00M318.12 39.10h4.2M318.12 138.00h4.2" stroke="#5a5a5a" stroke-width="1.5" fill="none"/>
<rect x="316.97" y="87.30" width="6.5" height="31.50" fill="#cb1d25" stroke="#444444" stroke-width="1"/>
<path d="M316.97 102.60h6.5" stroke="#444444" stroke-width="1"/>
<path d="M320.22 12.40L322.12 15.40L320.22 18.40L318.32 15.40Z" fill="#2a2a2a"/>
<path d="M320.22 21.00L322.12 24.00L320.22 27.00L318.32 24.00Z" fill="#2a2a2a"/>
<path d="M320.22 258.10V302.60M320.22 333.20V343.80M318.12 258.10h4.2M318.12 343.80h4.2" stroke="#5a5a5a" stroke-width="1.5" fill="none"/>
<rect x="316.97" y="302.60" width="6.5" height="30.60" fill="#dfb320" stroke="#303030" stroke-width="1"/>
<path d="M316.97 324.10h6.5" stroke="#303030" stroke-width="1"/>
<path d="M320.22 185.20L322.12 188.20L320.22 191.20L318.32 188.20Z" fill="#2a2a2a"/>
<path d="M320.22 210.90L322.12 213.90L320.22 216.90L318.32 213.90Z" fill="#2a2a2a"/>
<path d="M320.22 225.50L322.12 228.50L320.22 231.50L318.32 228.50Z" fill="#2a2a2a"/>
<path d="M326.94 28.00V77.20M326.94 114.00V137.80M324.84 28.00h4.2M324.84 137.80h4.2" stroke="#5a5a5a" stroke-width="1.5" fill="none"/>
<rect x="323.69" y="77.20" width="6.5" height="36.80" fill="#8a42cb" stroke="#444444" stroke-width="1"/>
<path d="M323.69 100.10h6.5" stroke="#444444" stroke-width="1"/>
<path d="M326.94 12.40L328.84 15.40L326.94 18.40L325.04 15.40Z" fill="#2a2a2a"/>
<path d="M326.94 252.60V295.70M326.94 331.20V341.80M324.84 252.60h4.2M324.84 341.80h4.2" stroke="#5a5a5a" stroke-width="1.5" fill="none"/>
<rect x="323.69" y="295.70" width="6.5" height="35.50" fill="#20c1df" stroke="#303030" stroke-width="1"/>
<path d="M323.69 315.20h6.5" stroke="#303030" stroke-width="1"/>
<path d="M326.94 234.60L328.84 237.60L326.94 240.60L325.04 237.60Z" fill="#2a2a2a"/>
<path d="M342.06 79.60V92.30M342.06 105.20V120.40M339.96 79.60h4.2M339.96 120.40h4.2" stroke="#5a5a5a" stroke-width="1.5" fill="none"/>
<rect x="338.81" y="92.30" width="6.5" height="12.90" fill="#224fdf" stroke="#444444" stroke-width="1"/>
<path d="M338.81 101.20h6.5" stroke="#444444" stroke-width="1"/>
<path d="M342.06 53.20L343.96 56.20L342.06 59.20L340.16 56.20Z" fill="#2a2a2a"/>
<path d="M342.06 60.80L343.96 63.80L342.06 66.80L340.16 63.80Z" fill="#2a2a2a"/>
<path d="M342.06 65.40L343.96 68.40L342.06 71.40L340.16 68.40Z" fill="#2a2a2a"/>
<path d="M342.06 303.10V323.30M342.06 338.10V342.30M339.96 303.10h4.2M339.96 342.30h4.2" stroke="#5a5a5a" stroke-width="1.5" fill="none"/>
<rect x="338.81" y="323.30" width="6.5" height="14.80" fill="#8b4a14" stroke="#303030" stroke-width="1"/>
<path d="M338.81 331.40h6.5" stroke="#303030" stroke-width="1"/>
<path d="M342.06 276.50L343.96 279.50L342.06 282.50L340.16 279.50Z" fill="#2a2a2a"/>
<path d="M342.06 283.40L343.96 286.40L342.06 289.40L340.16 286.40Z" fill="#2a2a2a"/>
<path d="M342.06 289.80L343.96 292.80L342.06 295.80L340.16 292.80Z" fill="#2a2a2a"/>
<path d="M342.06 296.70L343.96 299.70L342.06 302.70L340.16 299.70Z" fill="#2a2a2a"/>
<path d="M348.78 81.10V101.40M348.78 116.00V128.40M346.68 81.10h4.2M346.68 128.40h4.2" stroke="#5a5a5a" stroke-width="1.5" fill="none"/>
<rect x="345.53" y="101.40" width="6.5" height="14.60" fill="#df7d20" stroke="#444444" stroke-width="1"/>
<path d="M345.53 110.30h6.5" stroke="#444444" stroke-width="1"/>
<path d="M348.78 63.30L350.68 66.30L348.78 69.30L346.88 66.30Z" fill="#2a2a2a"/>
<path d="M348.78 314.20V326.60M348.78 336.70V342.10M346.68 314.20h4.2M346.68 342.10h4.2" stroke="#5a5a5a" stroke-width="1.5" fill="none"/>
<rect x="345.53" y="326.60" width="6.5" height="10.10" fill="#dc61b8" stroke="#303030" stroke-width="1"/>
<path d="M345.53 332.20h6.5" stroke="#303030" stroke-width="1"/>
<path d="M348.78 245.40L350.68 248.40L348.78 251.40L346.88 248.40Z" fill="#2a2a2a"/>
<path d="M348.78 277.10L350.68 280.10L348.78 283.10L346.88 280.10Z" fill="#2a2a2a"/>
<path d="M348.78 282.00L350.68 285.00L348.78 288.00L346.88 285.00Z" fill="#2a2a2a"/>
<path d="M348.78 287.00L350.68 290.00L348.78 293.00L346.88 290.00Z" fill="#2a2a2a"/>
<path d="M348.78 291.70L350.68 294.70L348.78 297.70L346.88 294.70Z" fill="#2a2a2a"/>
<path d="M348.78 306.50L350.68 309.50L348.78 312.50L346.88 309.50Z" fill="#2a2a2a"/>
<path d="M355.50 80.20V105.50M355.50 122.90V136.20M353.40 80.20h4.2M353.40 136.20h4.2" stroke="#5a5a5a" stroke-width="1.5" fill="none"/>
<rect x="352.25" y="105.50" width="6.5" height="17.40" fill="#30b346" stroke="#444444" stroke-width="1"/>
<path d="M352.25 118.10h6.5" stroke="#444444" stroke-width="1"/>
<path d="M355.50 70.50L357.40 73.50L355.50 76.50L353.60 73.50Z" fill="#2a2a2a"/>
<path d="M355.50 73.70L357.40 76.70L355.50 79.70L353.60 76.70Z" fill="#2a2a2a"/>
<path d="M355.50 305.10V322.60M355.50 337.00V344.10M353.40 305.10h4.2M353.40 344.10h4.2" stroke="#5a5a5a" stroke-width="1.5" fill="none"/>
<rect x="352.25" y="322.60" width="6.5" height="14.40" fill="#a3a3a3" stroke="#303030" stroke-width="1"/>
<path d="M352.25 330.40h6.5" stroke="#303030" stroke-width="1"/>
<path d="M355.50 268.90L357.40 271.90L355.50 274.90L353.60 271.90Z" fill="#2a2a2a"/>
<path d="M362.22 96.40V116.60M362.22 134.90V149.50M360.12 96.40h4.2M360.12 149.50h4.2" stroke="#5a5a5a" stroke-width="1.5" fill="none"/>
<rect x="358.97" y="116.60" width="6.5" height="18.30" fill="#cb1d25" stroke="#444444" stroke-width="1"/>
<path d="M358.97 127.50h6.5" stroke="#444444" stroke-width="1"/>
<path d="M362.22 62.90L364.12 65.90L362.22 68.90L360.32 65.90Z" fill="#2a2a2a"/>
<path d="M362.22 304.10V323.90M362.22 339.30V344.10M360.12 304.10h4.2M360.12 344.10h4.2" stroke="#5a5a5a" stroke-width="1.5" fill="none"/>
<rect x="358.97" y="323.90" width="6.5" height="15.40" fill="#dfb320" stroke="#303030" stroke-width="1"/>
<path d="M358.97 334.00h6.5" stroke="#303030" stroke-width="1"/>
<path d="M362.22 232.10L364.12 235.10L362.22 238.10L360.32 235.10Z" fill="#2a2a2a"/>
<path d="M362.22 278.10L364.12 281.10L362.22 284.10L360.32 281.10Z" fill="#2a2a2a"/>
<path d="M362.22 293.30L364.12 296.30L362.22 299.30L360.32 296.30Z" fill="#2a2a2a"/>
<path d="M368.94 83.00V110.00M368.94 132.30V145.90M366.84 83.00h4.2M366.84 145.90h4.2" stroke="#5a5a5a" stroke-width="1.5" fill="none"/>
<rect x="365.69" y="110.00" width="6.5" height="22.30" fill="#8a42cb" stroke="#444444" stroke-width="1"/>
<path d="M365.69 121.40h6.5" stroke="#444444" stroke-width="1"/>
<path d="M368.94 70.90L370.84 73.90L368.94 76.90L367.04 73.90Z" fill="#2a2a2a"/>
<path d="M368.94 290.00V318.60M368.94 336.40V342.30M366.84 290.00h4.2M366.84 342.30h4.2" stroke="#5a5a5a" stroke-width="1.5" fill="none"/>
<rect x="365.69" y="318.60" width="6.5" height="17.80" fill="#20c1df" stroke="#303030" stroke-width="1"/>
<path d="M365.69 327.40h6.5" stroke="#303030" stroke-width="1"/>
<path d="M368.94 197.10L370.84 200.10L368.94 203.10L367.04 200.10Z" fill="#2a2a2a"/>
<path d="M368.94 269.80L370.84 272.80L368.94 275.80L367.04 272.80Z" fill="#2a2a2a"/>
<path d="M368.94 277.10L370.84 280.10L368.94 283.10L367.04 280.10Z" fill="#2a2a2a"/>
<path d="M368.94 280.50L370.84 283.50L368.94 286.50L367.04 283.50Z" fill="#2a2a2a"/>
<path d="M368.94 284.50L370.84 287.50L368.94 290.50L367.04 287.50Z" fill="#2a2a2a"/>
<path d="M384.06 118.90V128.20M384.06 138.90V150.90M381.96 118.90h4.2M381.96 150.90h4.2" stroke="#5a5a5a" stroke-width="1.5" fill="none"/>
<rect x="380.81" y="128.20" width="6.5" height="10.70" fill="#224fdf" stroke="#444444" stroke-width="1"/>
<path d="M380.81 134.10h6.5" stroke="#444444" stroke-width="1"/>
<path d="M384.06 79.70L385.96 82.70L384.06 85.70L382.16 82.70Z" fill="#2a2a2a"/>
<path d="M384.06 95.10L385.96 98.10L384.06 101.10L382.16 98.10Z" fill="#2a2a2a"/>
<path d="M384.06 323.10V333.20M384.06 340.30V342.80M381.96 323.10h4.2M381.96 342.80h4.2" stroke="#5a5a5a" stroke-width="1.5" fill="none"/>
<rect x="380.81" y="333.20" width="6.5" height="7.10" fill="#8b4a14" stroke="#303030" stroke-width="1"/>
<path d="M380.81 337.20h6.5" stroke="#303030" stroke-width="1"/>
<path d="M384.06 275.60L385.96 278.60L384.06 281.60L382.16 278.60Z" fill="#2a2a2a"/>
<path d="M384.06 309.80L385.96 312.80L384.06 315.80L382.16 312.80Z" fill="#2a2a2a"/>
<path d="M384.06 312.30L385.96 315.30L384.06 318.30L382.16 315.30Z" fill="#2a2a2a"/>
<path d="M384.06 314.80L385.96 317.80L384.06 320.80L382.16 317.80Z" fill="#2a2a2a"/>
<path d="M390.78 119.10V127.30M390.78 138.30V149.00M388.68 119.10h4.2M388.68 149.00h4.2" stroke="#5a5a5a" stroke-width="1.5" fill="none"/>
<rect x="387.53" y="127.30" width="6.5" height="11.00" fill="#df7d20" stroke="#444444" stroke-width="1"/>
<path d="M387.53 134.10h6.5" stroke="#444444" stroke-width="1"/>
<path d="M390.78 76.50L392.68 79.50L390.78 82.50L388.88 79.50Z" fill="#2a2a2a"/>
<path d="M390.78 100.60L392.68 103.60L390.78 106.60L388.88 103.60Z" fill="#2a2a2a"/>
<path d="M390.78 313.20V328.40M390.78 338.80V342.00M388.68 313.20h4.2M388.68 342.00h4.2" stroke="#5a5a5a" stroke-width="1.5" fill="none"/>
<rect x="387.53" y="328.40" width="6.5" height="10.40" fill="#dc61b8" stroke="#303030" stroke-width="1"/>
<path d="M387.53 337.00h6.5" stroke="#303030" stroke-width="1"/>
<path d="M390.78 298.80L392.68 301.80L390.78 304.80L388.88 301.80Z" fill="#2a2a2a"/>
<path d="M390.78 301.30L392.68 304.30L390.78 307.30L388.88 304.30Z" fill="#2a2a2a"/>
<path d="M390.78 303.80L392.68 306.80L390.78 309.80L388.88 306.80Z" fill="#2a2a2a"/>
<path d="M390.78 306.30L392.68 309.30L390.78 312.30L388.88 309.30Z" fill="#2a2a2a"/>
<path d="M397.50 116.40V130.30M397.50 141.40V152.60M395.40 116.40h4.2M395.40 152.60h4.2" stroke="#5a5a5a" stroke-width="1.5" fill="none"/>
<rect x="394.25" y="130.30" width="6.5" height="11.10" fill="#30b346" stroke="#444444" stroke-width="1"/>
<path d="M394.25 136.60h6.5" stroke="#444444" stroke-width="1"/>
<path d="M397.50 101.00L399.40 104.00L397.50 107.00L395.60 104.00Z" fill="#2a2a2a"/>
<path d="M397.50 105.40L399.40 108.40L397.50 111.40L395.60 108.40Z" fill="#2a2a2a"/>
<path d="M397.50 328.70V334.70M397.50 341.30V343.80M395.40 328.70h4.2M395.40 343.80h4.2" stroke="#5a5a5a" stroke-width="1.5" fill="none"/>
<rect x="394.25" y="334.70" width="6.5" height="6.60" fill="#a3a3a3" stroke="#303030" stroke-width="1"/>
<path d="M394.25 337.20h6.5" stroke="#303030" stroke-width="1"/>
<path d="M397.50 251.10L399.40 254.10L397.50 257.10L395.60 254.10Z" fill="#2a2a2a"/>
<path d="M397.50 281.20L399.40 284.20L397.50 287.20L395.60 284.20Z" fill="#2a2a2a"/>
<path d="M397.50 304.40L399.40 307.40L397.50 310.40L395.60 307.40Z" fill="#2a2a2a"/>
<path d="M397.50 315.70L399.40 318.70L397.50 321.70L395.60 318.70Z" fill="#2a2a2a"/>
<path d="M397.50 318.40L399.40 321.40L397.50 324.40L395.60 321.40Z" fill="#2a2a2a"/>
<path d="M404.22 117.00V135.10M404.22 149.70V156.90M402.12 117.00h4.2M402.12 156.90h4.2" stroke="#5a5a5a" stroke-width="1.5" fill="none"/>
<rect x="400.97" y="135.10" width="6.5" height="14.60" fill="#cb1d25" stroke="#444444" stroke-width="1"/>
<path d="M400.97 144.00h6.5" stroke="#444444" stroke-width="1"/>
<path d="M404.22 97.80L406.12 100.80L404.22 103.80L402.32 100.80Z" fill="#2a2a2a"/>
<path d="M404.22 105.40L406.12 108.40L404.22 111.40L402.32 108.40Z" fill="#2a2a2a"/>
<path d="M404.22 317.60V332.40M404.22 341.80V343.80M402.12 317.60h4.2M402.12 343.80h4.2" stroke="#5a5a5a" stroke-width="1.5" fill="none"/>
<rect x="400.97" y="332.40" width="6.5" height="9.40" fill="#dfb320" stroke="#303030" stroke-width="1"/>
<path d="M400.97 338.00h6.5" stroke="#303030" stroke-width="1"/>
<path d="M404.22 288.70L406.12 291.70L404.22 294.70L402.32 291.70Z" fill="#2a2a2a"/>
<path d="M404.22 298.00L406.12 301.00L404.22 304.00L402.32 301.00Z" fill="#2a2a2a"/>
<path d="M404.22 300.50L406.12 303.50L404.22 306.50L402.32 303.50Z" fill="#2a2a2a"/>
<path d="M404.22 303.00L406.12 306.00L404.22 309.00L402.32 306.00Z" fill="#2a2a2a"/>
<path d="M404.22 305.50L406.12 308.50L404.22 311.50L402.32 308.50Z" fill="#2a2a2a"/>
<path d="M404.22 308.00L406.12 311.00L404.22 314.00L402.32 311.00Z" fill="#2a2a2a"/>
<path d="M410.94 103.70V126.70M410.94 144.00V153.10M408.84 103.70h4.2M408.84 153.10h4.2" stroke="#5a5a5a" stroke-width="1.5" fill="none"/>
<rect x="407.69" y="126.70" width="6.5" height="17.30" fill="#8a42cb" stroke="#444444" stroke-width="1"/>
<path d="M407.69 137.30h6.5" stroke="#444444" stroke-width="1"/>
<path d="M410.94 84.30L412.84 87.30L410.94 90.30L409.04 87.30Z" fill="#2a2a2a"/>
<path d="M410.94 265.70V306.40M410.94 337.00V343.30M408.84 265.70h4.2M408.84 343.30h4.2" stroke="#5a5a5a" stroke-width="1.5" fill="none"/>
<rect x="407.69" y="306.40" width="6.5" height="30.60" fill="#20c1df" stroke="#303030" stroke-width="1"/>
<path d="M407.69 330.20h6.5" stroke="#303030" stroke-width="1"/>
<path d="M410.94 240.00L412.84 243.00L410.94 246.00L409.04 243.00Z" fill="#2a2a2a"/>
<path d="M410.94 247.50L412.84 250.50L410.94 253.50L409.04 250.50Z" fill="#2a2a2a"/>
<path d="M426.06 138.00V150.20M426.06 158.80V163.00M423.96 138.00h4.2M423.96 163.00h4.2" stroke="#5a5a5a" stroke-width="1.5" fill="none"/>
<rect x="422.81" y="150.20" width="6.5" height="8.60" fill="#224fdf" stroke="#444444" stroke-width="1"/>
<path d="M422.81 154.70h6.5" stroke="#444444" stroke-width="1"/>
<path d="M426.06 56.50L427.96 59.50L426.06 62.50L424.16 59.50Z" fill="#2a2a2a"/>
<path d="M426.06 124.90L427.96 127.90L426.06 130.90L424.16 127.90Z" fill="#2a2a2a"/>
<path d="M426.06 331.40V336.20M426.06 339.80V343.10M423.96 331.40h4.2M423.96 343.10h4.2" stroke="#5a5a5a" stroke-width="1.5" fill="none"/>
<rect x="422.81" y="336.20" width="6.5" height="3.60" fill="#8b4a14" stroke="#303030" stroke-width="1"/>
<path d="M422.81 338.00h6.5" stroke="#303030" stroke-width="1"/>
<path d="M426.06 321.60L427.96 324.60L426.06 327.60L424.16 324.60Z" fill="#2a2a2a"/>
<path d="M426.06 324.50L427.96 327.50L426.06 330.50L424.16 327.50Z" fill="#2a2a2a"/>
<path d="M432.78 138.30V146.40M432.78 155.20V161.50M430.68 138.30h4.2M430.68 161.50h4.2" stroke="#5a5a5a" stroke-width="1.5" fill="none"/>
<rect x="429.53" y="146.40" width="6.5" height="8.80" fill="#df7d20" stroke="#444444" stroke-width="1"/>
<path d="M429.53 152.90h6.5" stroke="#444444" stroke-width="1"/>
<path d="M432.78 68.20L434.68 71.20L432.78 74.20L430.88 71.20Z" fill="#2a2a2a"/>
<path d="M432.78 125.90L434.68 128.90L432.78 131.90L430.88 128.90Z" fill="#2a2a2a"/>
<path d="M432.78 322.10V331.70M432.78 339.80V342.10M430.68 322.10h4.2M430.68 342.10h4.2" stroke="#5a5a5a" stroke-width="1.5" fill="none"/>
<rect x="429.53" y="331.70" width="6.5" height="8.10" fill="#dc61b8" stroke="#303030" stroke-width="1"/>
<path d="M429.53 336.70h6.5" stroke="#303030" stroke-width="1"/>
<path d="M432.78 310.70L434.68 313.70L432.78 316.70L430.88 313.70Z" fill="#2a2a2a"/>
<path d="M432.78 314.00L434.68 317.00L432.78 320.00L430.88 317.00Z" fill="#2a2a2a"/>
<path d="M439.50 134.20V146.10M439.50 154.70V161.20M437.40 134.20h4.2M437.40 161.20h4.2" stroke="#5a5a5a" stroke-width="1.5" fill="none"/>
<rect x="436.25" y="146.10" width="6.5" height="8.60" fill="#30b346" stroke="#444444" stroke-width="1"/>
<path d="M436.25 150.90h6.5" stroke="#444444" stroke-width="1"/>
<path d="M439.50 127.20L441.40 130.20L439.50 133.20L437.60 130.20Z" fill="#2a2a2a"/>
<path d="M439.50 334.00V338.80M439.50 341.00V343.80M437.40 334.00h4.2M437.40 343.80h4.2" stroke="#5a5a5a" stroke-width="1.5" fill="none"/>
<rect x="436.25" y="338.80" width="6.5" height="2.20" fill="#a3a3a3" stroke="#303030" stroke-width="1"/>
<path d="M436.25 340.00h6.5" stroke="#303030" stroke-width="1"/>
<path d="M439.50 319.80L441.40 322.80L439.50 325.80L437.60 322.80Z" fill="#2a2a2a"/>
<path d="M439.50 322.30L441.40 325.30L439.50 328.30L437.60 325.30Z" fill="#2a2a2a"/>
<path d="M439.50 325.50L441.40 328.50L439.50 331.50L437.60 328.50Z" fill="#2a2a2a"/>
<path d="M446.22 133.50V147.60M446.22 157.70V162.30M444.12 133.50h4.2M444.12 162.30h4.2" stroke="#5a5a5a" stroke-width="1.5" fill="none"/>
<rect x="442.97" y="147.60" width="6.5" height="10.10" fill="#cb1d25" stroke="#444444" stroke-width="1"/>
<path d="M442.97 154.70h6.5" stroke="#444444" stroke-width="1"/>
<path d="M446.22 334.70V335.20M446.22 342.80V343.50M444.12 334.70h4.2M444.12 343.50h4.2" stroke="#5a5a5a" stroke-width="1.5" fill="none"/>
<rect x="442.97" y="335.20" width="6.5" height="7.60" fill="#dfb320" stroke="#303030" stroke-width="1"/>
<path d="M442.97 340.30h6.5" stroke="#303030" stroke-width="1"/>
<path d="M446.22 310.00L448.12 313.00L446.22 316.00L444.32 313.00Z" fill="#2a2a2a"/>
<path d="M446.22 313.00L448.12 316.00L446.22 319.00L444.32 316.00Z" fill="#2a2a2a"/>
<path d="M446.22 316.50L448.12 319.50L446.22 322.50L444.32 319.50Z" fill="#2a2a2a"/>
<path d="M452.94 114.50V137.30M452.94 152.40V159.20M450.84 114.50h4.2M450.84 159.20h4.2" stroke="#5a5a5a" stroke-width="1.5" fill="none"/>
<rect x="449.69" y="137.30" width="6.5" height="15.10" fill="#8a42cb" stroke="#444444" stroke-width="1"/>
<path d="M449.69 144.50h6.5" stroke="#444444" stroke-width="1"/>
<path d="M452.94 295.90V319.30M452.94 336.40V342.30M450.84 295.90h4.2M450.84 342.30h4.2" stroke="#5a5a5a" stroke-width="1.5" fill="none"/>
<rect x="449.69" y="319.30" width="6.5" height="17.10" fill="#20c1df" stroke="#303030" stroke-width="1"/>
<path d="M449.69 329.20h6.5" stroke="#303030" stroke-width="1"/>
<path d="M452.94 284.00L454.84 287.00L452.94 290.00L451.04 287.00Z" fill="#2a2a2a"/>
<path d="M452.94 288.00L454.84 291.00L452.94 294.00L451.04 291.00Z" fill="#2a2a2a"/>
<path d="M468.06 157.20V163.10M468.06 166.70V170.50M465.96 157.20h4.2M465.96 170.50h4.2" stroke="#5a5a5a" stroke-width="1.5" fill="none"/>
<rect x="464.81" y="163.10" width="6.5" height="3.60" fill="#224fdf" stroke="#444444" stroke-width="1"/>
<path d="M464.81 165.00h6.5" stroke="#444444" stroke-width="1"/>
<path d="M468.06 136.90L469.96 139.90L468.06 142.90L466.16 139.90Z" fill="#2a2a2a"/>
<path d="M468.06 149.80L469.96 152.80L468.06 155.80L466.16 152.80Z" fill="#2a2a2a"/>
<path d="M468.06 332.20V337.70M468.06 341.70V343.00M465.96 332.20h4.2M465.96 343.00h4.2" stroke="#5a5a5a" stroke-width="1.5" fill="none"/>
<rect x="464.81" y="337.70" width="6.5" height="4.00" fill="#8b4a14" stroke="#303030" stroke-width="1"/>
<path d="M464.81 339.70h6.5" stroke="#303030" stroke-width="1"/>
<path d="M468.06 321.80L469.96 324.80L468.06 327.80L466.16 324.80Z" fill="#2a2a2a"/>
<path d="M468.06 324.30L469.96 327.30L468.06 330.30L466.16 327.30Z" fill="#2a2a2a"/>
<path d="M474.78 155.90V161.40M474.78 164.10V168.60M472.68 155.90h4.2M472.68 168.60h4.2" stroke="#5a5a5a" stroke-width="1.5" fill="none"/>
<rect x="471.53" y="161.40" width="6.5" height="2.70" fill="#df7d20" stroke="#444444" stroke-width="1"/>
<path d="M471.53 162.70h6.5" stroke="#444444" stroke-width="1"/>
<path d="M474.78 138.60L476.68 141.60L474.78 144.60L472.88 141.60Z" fill="#2a2a2a"/>
<path d="M474.78 148.50L476.68 151.50L474.78 154.50L472.88 151.50Z" fill="#2a2a2a"/>
<path d="M474.78 338.50V339.20M474.78 341.50V342.50M472.68 338.50h4.2M472.68 342.50h4.2" stroke="#5a5a5a" stroke-width="1.5" fill="none"/>
<rect x="471.53" y="339.20" width="6.5" height="2.30" fill="#dc61b8" stroke="#303030" stroke-width="1"/>
<path d="M471.53 340.30h6.5" stroke="#303030" stroke-width="1"/>
<path d="M474.78 331.30L476.68 334.30L474.78 337.30L472.88 334.30Z" fill="#2a2a2a"/>
<path d="M481.50 150.20V157.60M481.50 163.10V167.30M479.40 150.20h4.2M479.40 167.30h4.2" stroke="#5a5a5a" stroke-width="1.5" fill="none"/>
<rect x="478.25" y="157.60" width="6.5" height="5.50" fill="#30b346" stroke="#444444" stroke-width="1"/>
<path d="M478.25 160.20h6.5" stroke="#444444" stroke-width="1"/>
<path d="M481.50 141.20L483.40 144.20L481.50 147.20L479.60 144.20Z" fill="#2a2a2a"/>
<path d="M481.50 334.10V337.70M481.50 340.70V343.60M479.40 334.10h4.2M479.40 343.60h4.2" stroke="#5a5a5a" stroke-width="1.5" fill="none"/>
<rect x="478.25" y="337.70" width="6.5" height="3.00" fill="#a3a3a3" stroke="#303030" stroke-width="1"/>
<path d="M478.25 339.20h6.5" stroke="#303030" stroke-width="1"/>
<path d="M481.50 320.60L483.40 323.60L481.50 326.60L479.60 323.60Z" fill="#2a2a2a"/>
<path d="M481.50 324.60L483.40 327.60L481.50 330.60L479.60 327.60Z" fill="#2a2a2a"/>
<path d="M488.22 152.80V159.70M488.22 165.40V167.30M486.12 152.80h4.2M486.12 167.30h4.2" stroke="#5a5a5a" stroke-width="1.5" fill="none"/>
<rect x="484.97" y="159.70" width="6.5" height="5.70" fill="#cb1d25" stroke="#444444" stroke-width="1"/>
<path d="M484.97 162.50h6.5" stroke="#444444" stroke-width="1"/>
<path d="M488.22 336.00V339.80M488.22 342.40V343.50M486.12 336.00h4.2M486.12 343.50h4.2" stroke="#5a5a5a" stroke-width="1.5" fill="none"/>
<rect x="484.97" y="339.80" width="6.5" height="2.60" fill="#dfb320" stroke="#303030" stroke-width="1"/>
<path d="M484.97 341.00h6.5" stroke="#303030" stroke-width="1"/>
<path d="M488.22 319.10L490.12 322.10L488.22 325.10L486.32 322.10Z" fill="#2a2a2a"/>
<path d="M488.22 326.30L490.12 329.30L488.22 332.30L486.32 329.30Z" fill="#2a2a2a"/>
<path d="M488.22 328.60L490.12 331.60L488.22 334.60L486.32 331.60Z" fill="#2a2a2a"/>
<path d="M494.94 146.40V153.80M494.94 161.00V166.70M492.84 146.40h4.2M492.84 166.70h4.2" stroke="#5a5a5a" stroke-width="1.5" fill="none"/>
<rect x="491.69" y="153.80" width="6.5" height="7.20" fill="#8a42cb" stroke="#444444" stroke-width="1"/>
<path d="M491.69 157.50h6.5" stroke="#444444" stroke-width="1"/>
<path d="M494.94 135.60L496.84 138.60L494.94 141.60L493.04 138.60Z" fill="#2a2a2a"/>
<path d="M494.94 315.80V329.30M494.94 338.60V342.40M492.84 315.80h4.2M492.84 342.40h4.2" stroke="#5a5a5a" stroke-width="1.5" fill="none"/>
<rect x="491.69" y="329.30" width="6.5" height="9.30" fill="#20c1df" stroke="#303030" stroke-width="1"/>
<path d="M491.69 337.30h6.5" stroke="#303030" stroke-width="1"/>
<path d="M494.94 293.10L496.84 296.10L494.94 299.10L493.04 296.10Z" fill="#2a2a2a"/>
<path d="M494.94 305.70L496.84 308.70L494.94 311.70L493.04 308.70Z" fill="#2a2a2a"/>
<path d="M494.94 311.00L496.84 314.00L494.94 317.00L493.04 314.00Z" fill="#2a2a2a"/>
<path d="M510.06 166.50V167.50M510.06 168.80V170.00M507.96 166.50h4.2M507.96 170.00h4.2" stroke="#5a5a5a" stroke-width="1.5" fill="none"/>
<rect x="506.81" y="167.50" width="6.5" height="1.30" fill="#224fdf" stroke="#444444" stroke-width="1"/>
<path d="M506.81 168.00h6.5" stroke="#444444" stroke-width="1"/>
<path d="M510.06 156.00L511.96 159.00L510.06 162.00L508.16 159.00Z" fill="#2a2a2a"/>
<path d="M510.06 158.50L511.96 161.50L510.06 164.50L508.16 161.50Z" fill="#2a2a2a"/>
<path d="M510.06 161.00L511.96 164.00L510.06 167.00L508.16 164.00Z" fill="#2a2a2a"/>
<path d="M510.06 169.50L511.96 172.50L510.06 175.50L508.16 172.50Z" fill="#2a2a2a"/>
<path d="M510.06 331.60V337.70M510.06 341.10V343.00M507.96 331.60h4.2M507.96 343.00h4.2" stroke="#5a5a5a" stroke-width="1.5" fill="none"/>
<rect x="506.81" y="337.70" width="6.5" height="3.40" fill="#8b4a14" stroke="#303030" stroke-width="1"/>
<path d="M506.81 339.40h6.5" stroke="#303030" stroke-width="1"/>
<path d="M510.06 322.50L511.96 325.50L510.06 328.50L508.16 325.50Z" fill="#2a2a2a"/>
<path d="M510.06 325.00L511.96 328.00L510.06 331.00L508.16 328.00Z" fill="#2a2a2a"/>
<path d="M516.78 164.50V166.00M516.78 167.20V170.20M514.68 164.50h4.2M514.68 170.20h4.2" stroke="#5a5a5a" stroke-width="1.5" fill="none"/>
<rect x="513.53" y="166.00" width="6.5" height="1.20" fill="#df7d20" stroke="#444444" stroke-width="1"/>
<path d="M513.53 166.50h6.5" stroke="#444444" stroke-width="1"/>
<path d="M516.78 152.50L518.68 155.50L516.78 158.50L514.88 155.50Z" fill="#2a2a2a"/>
<path d="M516.78 155.00L518.68 158.00L516.78 161.00L514.88 158.00Z" fill="#2a2a2a"/>
<path d="M516.78 157.50L518.68 160.50L516.78 163.50L514.88 160.50Z" fill="#2a2a2a"/>
<path d="M516.78 340.00V340.50M516.78 342.50V343.50M514.68 340.00h4.2M514.68 343.50h4.2" stroke="#5a5a5a" stroke-width="1.5" fill="none"/>
<rect x="513.53" y="340.50" width="6.5" height="2.00" fill="#dc61b8" stroke="#303030" stroke-width="1"/>
<path d="M513.53 341.50h6.5" stroke="#303030" stroke-width="1"/>
<path d="M516.78 336.50L518.68 339.50L516.78 342.50L514.88 339.50Z" fill="#2a2a2a"/>
<path d="M523.50 164.00V165.20M523.50 167.30V169.50M521.40 164.00h4.2M521.40 169.50h4.2" stroke="#5a5a5a" stroke-width="1.5" fill="none"/>
<rect x="520.25" y="165.20" width="6.5" height="2.10" fill="#30b346" stroke="#444444" stroke-width="1"/>
<path d="M520.25 166.30h6.5" stroke="#444444" stroke-width="1"/>
<path d="M523.50 152.50L525.40 155.50L523.50 158.50L521.60 155.50Z" fill="#2a2a2a"/>
<path d="M523.50 155.00L525.40 158.00L523.50 161.00L521.60 158.00Z" fill="#2a2a2a"/>
<path d="M523.50 157.50L525.40 160.50L523.50 163.50L521.60 160.50Z" fill="#2a2a2a"/>
<path d="M523.50 334.00V337.70M523.50 340.70V343.60M521.40 334.00h4.2M521.40 343.60h4.2" stroke="#5a5a5a" stroke-width="1.5" fill="none"/>
<rect x="520.25" y="337.70" width="6.5" height="3.00" fill="#a3a3a3" stroke="#303030" stroke-width="1"/>
<path d="M520.25 339.20h6.5" stroke="#303030" stroke-width="1"/>
<path d="M523.50 320.60L525.40 323.60L523.50 326.60L521.60 323.60Z" fill="#2a2a2a"/>
<path d="M523.50 324.60L525.40 327.60L523.50 330.60L521.60 327.60Z" fill="#2a2a2a"/>
<path d="M530.22 162.60V166.30M530.22 168.90V171.10M528.12 162.60h4.2M528.12 171.10h4.2" stroke="#5a5a5a" stroke-width="1.5" fill="none"/>
<rect x="526.97" y="166.30" width="6.5" height="2.60" fill="#cb1d25" stroke="#444444" stroke-width="1"/>
<path d="M526.97 167.50h6.5" stroke="#444444" stroke-width="1"/>
<path d="M530.22 152.90L532.12 155.90L530.22 158.90L528.32 155.90Z" fill="#2a2a2a"/>
<path d="M530.22 338.50V340.00M530.22 342.50V343.50M528.12 338.50h4.2M528.12 343.50h4.2" stroke="#5a5a5a" stroke-width="1.5" fill="none"/>
<rect x="526.97" y="340.00" width="6.5" height="2.50" fill="#dfb320" stroke="#303030" stroke-width="1"/>
<path d="M526.97 341.30h6.5" stroke="#303030" stroke-width="1"/>
<path d="M530.22 319.10L532.12 322.10L530.22 325.10L528.32 322.10Z" fill="#2a2a2a"/>
<path d="M530.22 334.00L532.12 337.00L530.22 340.00L528.32 337.00Z" fill="#2a2a2a"/>
<path d="M536.94 161.50V162.30M536.94 165.50V168.90M534.84 161.50h4.2M534.84 168.90h4.2" stroke="#5a5a5a" stroke-width="1.5" fill="none"/>
<rect x="533.69" y="162.30" width="6.5" height="3.20" fill="#8a42cb" stroke="#444444" stroke-width="1"/>
<path d="M533.69 163.80h6.5" stroke="#444444" stroke-width="1"/>
<path d="M536.94 152.50L538.84 155.50L536.94 158.50L535.04 155.50Z" fill="#2a2a2a"/>
<path d="M536.94 155.00L538.84 158.00L536.94 161.00L535.04 158.00Z" fill="#2a2a2a"/>
<path d="M536.94 321.00V333.10M536.94 341.10V343.00M534.84 321.00h4.2M534.84 343.00h4.2" stroke="#5a5a5a" stroke-width="1.5" fill="none"/>
<rect x="533.69" y="333.10" width="6.5" height="8.00" fill="#20c1df" stroke="#303030" stroke-width="1"/>
<path d="M533.69 337.50h6.5" stroke="#303030" stroke-width="1"/>
<path d="M536.94 293.10L538.84 296.10L536.94 299.10L535.04 296.10Z" fill="#2a2a2a"/>
<path d="M536.94 305.70L538.84 308.70L536.94 311.70L535.04 308.70Z" fill="#2a2a2a"/>
<path d="M536.94 311.30L538.84 314.30L536.94 317.30L535.04 314.30Z" fill="#2a2a2a"/>
<path d="M536.94 313.80L538.84 316.80L536.94 319.80L535.04 316.80Z" fill="#2a2a2a"/>
<path d="M40.5 180.5H544.5" stroke="#858585" stroke-width="1.3"/><path d="M544.5 180.5V352.5" stroke="#858585" stroke-width="1.2"/><path d="M40.5 352.5H544.5" stroke="#666" stroke-width="1.2"/><path d="M40.5 180.5V352.5" stroke="#555" stroke-width="1.2"/>
<path d="M40.5 7.5H544.5" stroke="#858585" stroke-width="1.3"/><path d="M544.5 7.5V180.5" stroke="#858585" stroke-width="1.2"/><path d="M40.5 180.5H544.5" stroke="#666" stroke-width="1.2"/><path d="M40.5 7.5V180.5" stroke="#555" stroke-width="1.2"/>
<path d="M37.5 175.50H40.5M37.5 344.40H40.5" stroke="#6a6a6a" stroke-width="1"/>
<path d="M37.5 143.50H40.5M37.5 313.04H40.5" stroke="#6a6a6a" stroke-width="1"/>
<path d="M37.5 111.50H40.5M37.5 281.68H40.5" stroke="#6a6a6a" stroke-width="1"/>
<path d="M37.5 79.50H40.5M37.5 250.32H40.5" stroke="#6a6a6a" stroke-width="1"/>
<path d="M37.5 47.50H40.5M37.5 218.96H40.5" stroke="#6a6a6a" stroke-width="1"/>
<path d="M37.5 15.50H40.5M37.5 187.60H40.5" stroke="#6a6a6a" stroke-width="1"/>
<path d="M61.5 352.5V355" stroke="#6a6a6a" stroke-width="1"/>
<path d="M103.5 352.5V355" stroke="#6a6a6a" stroke-width="1"/>
<path d="M145.5 352.5V355" stroke="#6a6a6a" stroke-width="1"/>
<path d="M187.5 352.5V355" stroke="#6a6a6a" stroke-width="1"/>
<path d="M229.5 352.5V355" stroke="#6a6a6a" stroke-width="1"/>
<path d="M271.5 352.5V355" stroke="#6a6a6a" stroke-width="1"/>
<path d="M313.5 352.5V355" stroke="#6a6a6a" stroke-width="1"/>
<path d="M355.5 352.5V355" stroke="#6a6a6a" stroke-width="1"/>
<path d="M397.5 352.5V355" stroke="#6a6a6a" stroke-width="1"/>
<path d="M439.5 352.5V355" stroke="#6a6a6a" stroke-width="1"/>
<path d="M481.5 352.5V355" stroke="#6a6a6a" stroke-width="1"/>
<path d="M523.5 352.5V355" stroke="#6a6a6a" stroke-width="1"/>
<text x="36" y="180.10" text-anchor="end" font-size="10.5" fill="#262626">0.0</text>
<text x="36" y="349.00" text-anchor="end" font-size="10.5" fill="#262626">0.0</text>
<text x="36" y="148.10" text-anchor="end" font-size="10.5" fill="#262626">0.2</text>
<text x="36" y="317.64" text-anchor="end" font-size="10.5" fill="#262626">0.2</text>
<text x="36" y="116.10" text-anchor="end" font-size="10.5" fill="#262626">0.4</text>
<text x="36" y="286.28" text-anchor="end" font-size="10.5" fill="#262626">0.4</text>
<text x="36" y="84.10" text-anchor="end" font-size="10.5" fill="#262626">0.6</text>
<text x="36" y="254.92" text-anchor="end" font-size="10.5" fill="#262626">0.6</text>
<text x="36" y="52.10" text-anchor="end" font-size="10.5" fill="#262626">0.8</text>
<text x="36" y="223.56" text-anchor="end" font-size="10.5" fill="#262626">0.8</text>
<text x="36" y="20.10" text-anchor="end" font-size="10.5" fill="#262626">1.0</text>
<text x="36" y="192.20" text-anchor="end" font-size="10.5" fill="#262626">1.0</text>
<text x="61.5" y="364.6" text-anchor="middle" font-size="10.5" fill="#262626">Jan</text>
<text x="103.5" y="364.6" text-anchor="middle" font-size="10.5" fill="#262626">Feb</text>
<text x="145.5" y="364.6" text-anchor="middle" font-size="10.5" fill="#262626">Mar</text>
<text x="187.5" y="364.6" text-anchor="middle" font-size="10.5" fill="#262626">Apr</text>
<text x="229.5" y="364.6" text-anchor="middle" font-size="10.5" fill="#262626">May</text>
<text x="271.5" y="364.6" text-anchor="middle" font-size="10.5" fill="#262626">Jun</text>
<text x="313.5" y="364.6" text-anchor="middle" font-size="10.5" fill="#262626">Jul</text>
<text x="355.5" y="364.6" text-anchor="middle" font-size="10.5" fill="#262626">Aug</text>
<text x="397.5" y="364.6" text-anchor="middle" font-size="10.5" fill="#262626">Sep</text>
<text x="439.5" y="364.6" text-anchor="middle" font-size="10.5" fill="#262626">Oct</text>
<text x="481.5" y="364.6" text-anchor="middle" font-size="10.5" fill="#262626">Nov</text>
<text x="523.5" y="364.6" text-anchor="middle" font-size="10.5" fill="#262626">Dec</text>
<text x="4" y="21.6" font-size="12" fill="#262626">(a)</text>
<text x="4" y="200.6" font-size="12" fill="#262626">(b)</text>
<text transform="translate(16.3 94.0) rotate(-90)" text-anchor="middle" font-size="10.8" fill="#262626">Discharge (m<tspan font-size="7.5" dy="-4">3</tspan><tspan dy="4">/s)</tspan></text>
<text transform="translate(16.3 266.0) rotate(-90)" text-anchor="middle" font-size="10.8" fill="#262626">Discharge (m<tspan font-size="7.5" dy="-4">3</tspan><tspan dy="4">/s)</tspan></text>
<rect x="70.5" y="371.2" width="21.5" height="7.5" fill="#224fdf" stroke="#444" stroke-width="0.6"/>
<text x="100.0" y="378.80" font-size="10.2" fill="#262626">07AA002</text>
<rect x="163.5" y="371.2" width="21.5" height="7.5" fill="#df7d20" stroke="#444" stroke-width="0.6"/>
<text x="193.0" y="378.80" font-size="10.2" fill="#262626">07AD002</text>
<rect x="256.5" y="371.2" width="21.5" height="7.5" fill="#30b346" stroke="#444" stroke-width="0.6"/>
<text x="286.0" y="378.80" font-size="10.2" fill="#262626">07AE001</text>
<rect x="349.5" y="371.2" width="21.5" height="7.5" fill="#cb1d25" stroke="#444" stroke-width="0.6"/>
<text x="379.0" y="378.80" font-size="10.2" fill="#262626">07BE001</text>
<rect x="442.5" y="371.2" width="21.5" height="7.5" fill="#8a42cb" stroke="#444" stroke-width="0.6"/>
<text x="472.0" y="378.80" font-size="10.2" fill="#262626">07DA001</text>
<rect x="70.5" y="385.3" width="21.5" height="7.5" fill="#8b4a14" stroke="#444" stroke-width="0.6"/>
<text x="100.0" y="392.90" font-size="10.2" fill="#262626">07AH001</text>
<rect x="163.5" y="385.3" width="21.5" height="7.5" fill="#dc61b8" stroke="#444" stroke-width="0.6"/>
<text x="193.0" y="392.90" font-size="10.2" fill="#262626">07BB002</text>
<rect x="256.5" y="385.3" width="21.5" height="7.5" fill="#a3a3a3" stroke="#444" stroke-width="0.6"/>
<text x="286.0" y="392.90" font-size="10.2" fill="#262626">07BK005</text>
<rect x="349.5" y="385.3" width="21.5" height="7.5" fill="#dfb320" stroke="#444" stroke-width="0.6"/>
<text x="379.0" y="392.90" font-size="10.2" fill="#262626">07BK007</text>
<rect x="442.5" y="385.3" width="21.5" height="7.5" fill="#20c1df" stroke="#444" stroke-width="0.6"/>
<text x="472.0" y="392.90" font-size="10.2" fill="#262626">07DA006</text>
</svg>
</body></html>
